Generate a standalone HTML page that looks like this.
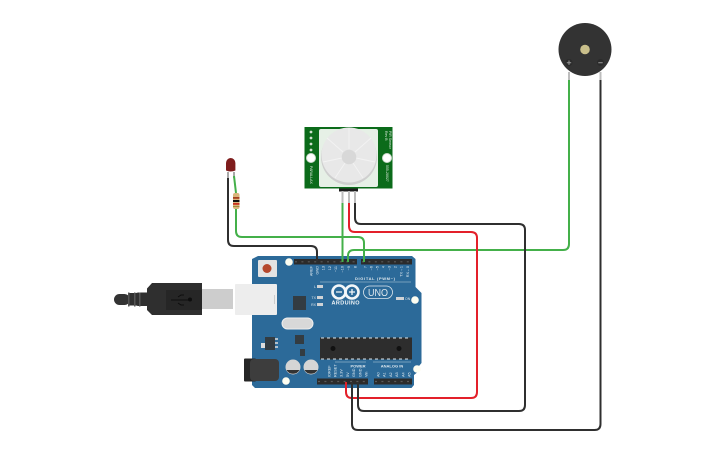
<!DOCTYPE html>
<html><head><meta charset="utf-8"><style>
html,body{margin:0;padding:0;background:#fff;width:725px;height:453px;overflow:hidden}
svg{display:block}
text{font-family:"Liberation Sans",sans-serif}
</style></head><body>
<svg width="725" height="453" viewBox="0 0 725 453" xmlns="http://www.w3.org/2000/svg">
<!-- USB -->
<rect x="114" y="294" width="16" height="11" rx="5.500" fill="#333"/>
<path d="M128 293h8l2-.5h9l0-4 5-5.500h50v32h-50l-5-5v-4h-9l-2-.5h-8z" fill="#2f2f2f"/>
<rect x="128" y="292.500" width="1.500" height="14" fill="#555"/><rect x="134" y="292.500" width="1.500" height="14" fill="#555"/><rect x="139" y="292.500" width="1.500" height="14" fill="#555"/>
<rect x="166" y="290" width="36" height="20" fill="#262626"/>
<path d="M171 300h18M178 297l3-2h3M178 303l3 2h3" stroke="#0d0d0d" stroke-width="1" fill="none"/><circle cx="190" cy="299.500" r="2" fill="#0d0d0d"/>
<rect x="202" y="289" width="31" height="20" fill="#cdcdcd"/>
<!-- Board -->
<path d="M258 256H412L415.500 259V287L421.500 293V363L419 366V371L414 375V385L411.500 388H255L252 385V259Z" fill="#2c6a99"/>
<!-- USB socket -->
<rect x="235" y="284" width="42" height="31" rx="1" fill="#ededed"/>
<rect x="274" y="295" width="1" height="9" fill="#ccc"/>
<!-- reset -->
<rect x="258" y="260" width="19" height="17" rx="1" fill="#e3e3e3"/><circle cx="267" cy="268.500" r="4.500" fill="#b5472c"/>
<circle cx="289" cy="262" r="3.800" fill="#fdfdf0"/><circle cx="415" cy="300" r="3.800" fill="#fdfdf0"/><circle cx="286" cy="381" r="3.800" fill="#fdfdf0"/><circle cx="417" cy="369" r="3.800" fill="#fdfdf0"/>
<!-- headers -->
<rect x="294" y="259" width="63" height="5.500" fill="#2b2b2b"/><rect x="361" y="259" width="51" height="5.500" fill="#2b2b2b"/>
<rect x="317" y="378.500" width="51" height="6" fill="#2b2b2b"/><rect x="374" y="378.500" width="38" height="6" fill="#2b2b2b"/>
<g stroke="#5a5a5a" stroke-width="1.200" stroke-dasharray="2 4.400" fill="none">
<path d="M295 261.800H356M362 261.800H411M318 381.500H367M375 381.500H411"/></g>
<!-- chips -->
<rect x="293" y="296" width="13" height="14" fill="#333c42"/>
<rect x="320" y="337.500" width="92" height="22" fill="#2d2d2d"/>
<circle cx="333" cy="348.500" r="2.500" fill="#111"/><circle cx="399" cy="348.500" r="2.500" fill="#111"/>
<path d="M321 338H411M321 359H411" stroke="#ddd" stroke-width="1" stroke-dasharray="3 3"/>
<rect x="265" y="337" width="10" height="13" fill="#333c42"/><rect x="261" y="343" width="4" height="5" fill="#ddd"/>
<path d="M275 339h3M275 343h3M275 347h3" stroke="#ddd" stroke-width="1.500"/>
<rect x="295" y="335" width="9" height="9" fill="#333c42"/>
<rect x="300" y="349" width="5" height="7" fill="#333c42"/>
<!-- crystal -->
<rect x="282" y="318" width="31" height="11" rx="5.500" fill="#d8d8d8" stroke="#eee"/>
<!-- LEDs -->
<g fill="#cfd3d6"><rect x="317" y="285" width="6" height="3"/><rect x="317" y="296" width="6" height="3"/><rect x="317" y="303" width="6" height="3"/><rect x="396" y="297" width="8" height="3"/></g>
<!-- caps and jack -->
<rect x="244" y="358.500" width="12" height="23" rx="1" fill="#262626"/><rect x="250" y="359" width="29" height="22" rx="4" fill="#3d3d3d"/>
<circle cx="293" cy="367" r="7.500" fill="#d5d5d5"/><path d="M286.500 370a7.500 7.500 0 0 0 13 0z" fill="#333"/>
<circle cx="311" cy="367" r="7.500" fill="#d5d5d5"/><path d="M304.500 370a7.500 7.500 0 0 0 13 0z" fill="#333"/>
<!-- logo -->
<g fill="none" stroke="#f2f6f8" stroke-width="2.600"><circle cx="339" cy="292" r="6.500"/><circle cx="352" cy="292" r="6.500"/></g>
<path d="M336 292h6M349 292h6M352 289v6" stroke="#f2f6f8" stroke-width="1.300"/>
<rect x="363.500" y="286" width="29" height="12.500" rx="6.200" fill="none" stroke="#dfe8ee" stroke-width=".8"/>
<text x="378" y="296" font-size="10.500" fill="#dfe8ee" text-anchor="middle" textLength="20" lengthAdjust="spacingAndGlyphs">UNO</text>
<text x="345.500" y="304.500" font-size="5.500" font-weight="bold" fill="#f2f6f8" text-anchor="middle" textLength="28" lengthAdjust="spacing">ARDUINO</text>
<text x="375" y="280" font-size="4" font-weight="bold" fill="#dfe8ee" text-anchor="middle" textLength="40">DIGITAL (PWM~)</text>
<path d="M320 282H411M335 362H366M373 362H411" stroke="#b9cfdd" stroke-width=".6" fill="none"/>
<text x="358" y="367.500" font-size="4" font-weight="bold" fill="#dfe8ee" text-anchor="middle">POWER</text>
<text x="392" y="367.500" font-size="4" font-weight="bold" fill="#dfe8ee" text-anchor="middle">ANALOG IN</text>
<text x="316" y="288" font-size="3.500" fill="#dfe8ee" text-anchor="end">L</text>
<text x="316" y="299" font-size="3.500" fill="#dfe8ee" text-anchor="end">TX</text>
<text x="316" y="306" font-size="3.500" fill="#dfe8ee" text-anchor="end">RX</text>
<text x="405" y="300" font-size="3.500" fill="#dfe8ee">ON</text>
<!-- pin labels -->
<g font-size="3.800" fill="#e4edf2" text-anchor="end" transform="translate(1.300,0)">
<text transform="translate(311,266) rotate(-90)">AREF</text>
<text transform="translate(317,266) rotate(-90)">GND</text>
<text transform="translate(323,266) rotate(-90)">13</text>
<text transform="translate(329.500,266) rotate(-90)">12</text>
<text transform="translate(335.500,266) rotate(-90)">~11</text>
<text transform="translate(342,266) rotate(-90)">~10</text>
<text transform="translate(348.500,266) rotate(-90)">~9</text>
<text transform="translate(355,266) rotate(-90)">8</text>
<text transform="translate(365,266) rotate(-90)">7</text>
<text transform="translate(371,266) rotate(-90)">~6</text>
<text transform="translate(377,266) rotate(-90)">~5</text>
<text transform="translate(383,266) rotate(-90)">4</text>
<text transform="translate(389,266) rotate(-90)">~3</text>
<text transform="translate(395,266) rotate(-90)">2</text>
<text transform="translate(401,266) rotate(-90)">TX→1</text>
<text transform="translate(407.500,266) rotate(-90)">RX←0</text>
<text transform="translate(329,377) rotate(-90)" text-anchor="start">IOREF</text>
<text transform="translate(335,377) rotate(-90)" text-anchor="start">RESET</text>
<text transform="translate(341,377) rotate(-90)" text-anchor="start">3.3V</text>
<text transform="translate(347.500,377) rotate(-90)" text-anchor="start">5V</text>
<text transform="translate(353.500,377) rotate(-90)" text-anchor="start">GND</text>
<text transform="translate(360,377) rotate(-90)" text-anchor="start">GND</text>
<text transform="translate(366,377) rotate(-90)" text-anchor="start">Vin</text>
<text transform="translate(378,377) rotate(-90)" text-anchor="start">A0</text>
<text transform="translate(384,377) rotate(-90)" text-anchor="start">A1</text>
<text transform="translate(390.500,377) rotate(-90)" text-anchor="start">A2</text>
<text transform="translate(396.500,377) rotate(-90)" text-anchor="start">A3</text>
<text transform="translate(403,377) rotate(-90)" text-anchor="start">A4</text>
<text transform="translate(409,377) rotate(-90)" text-anchor="start">A5</text>
</g>
<!-- PIR -->
<rect x="304.500" y="127" width="88" height="61.500" fill="#0b6b1a"/>
<rect x="319" y="129" width="59" height="58" rx="2" fill="#e6f0e6"/>
<circle cx="349" cy="157" r="28" fill="#cfcfcf"/>
<circle cx="349" cy="155" r="27.500" fill="#e8e8e8"/>
<g stroke="#f3f3f3" stroke-width=".9"><path d="M349 149V128M343 152L327 138M355 152L371 138M342 158L323 162M356 158L375 162M345 163L335 178M353 163L363 178"/></g>
<circle cx="349" cy="157" r="7.300" fill="#d8d8d8"/>
<circle cx="311" cy="158" r="4.500" fill="#fff" stroke="#cfdccf"/><circle cx="387" cy="158" r="4.500" fill="#fff" stroke="#cfdccf"/>
<g fill="#cfe0cf"><circle cx="311" cy="132" r="1.400"/><circle cx="311" cy="138" r="1.400"/><circle cx="311" cy="144" r="1.400"/><circle cx="311" cy="150" r="1.400"/></g>
<g font-size="3.500" fill="#dfeadf"><text transform="translate(310,166) rotate(90)">PARALLAX</text><text transform="translate(386,165) rotate(90)">555-28027</text><text transform="translate(389,131) rotate(90)">PIR Sensor</text><text transform="translate(385,131) rotate(90)">Rev B</text></g>
<rect x="339" y="188.500" width="19" height="3" fill="#1c1c1c"/>
<path d="M342.500 191V203M349 191V203M355 191V203" stroke="#bdbdbd" stroke-width="2" fill="none"/>
<!-- Buzzer -->
<circle cx="585" cy="49.500" r="26.500" fill="#333"/>
<circle cx="585" cy="49.500" r="4.800" fill="#c9bf8b"/>
<circle cx="569" cy="62.500" r="3.500" fill="#2b2b2b"/><circle cx="600.500" cy="62.500" r="3.500" fill="#2b2b2b"/>
<path d="M566.800 62.700h4.400M569 60.500v4.400M598.300 62.700h4.400" stroke="#9a9a9a" stroke-width="1"/>
<path d="M569 72V80" stroke="#bdbdbd" stroke-width="2"/><path d="M600.500 72V80" stroke="#bdbdbd" stroke-width="2"/>
<!-- LED -->
<path d="M228 172V178M234 172V178" stroke="#a8a8a8" stroke-width="2"/>
<path d="M226 170.500V163a4.700 5 0 0 1 9.400 0V170.500q-4.700 2-9.400 0z" fill="#7f1d1d"/>
<!-- Wires -->
<g fill="none" stroke-width="2" stroke-linejoin="round">
<path d="M228 178V240q0 6 6 6H311q6 0 6 6V261" stroke="#2f2f2f"/>
<path d="M234 176L236 193M236 208V231q0 6 6 6H358q6 0 6 6V262" stroke="#44b04a"/>
<path d="M342.500 203V262" stroke="#44b04a"/>
<path d="M569 80V244q0 6-6 6H354q-6 0-6 6V262" stroke="#44b04a"/>
<path d="M349 203V226q0 6 6 6H471q6 0 6 6V392q0 6-6 6H352q-6 0-6-6V382" stroke="#e3202a"/>
<path d="M355 203V218q0 6 6 6H519q6 0 6 6V405q0 6-6 6H364q-6 0-6-6V382" stroke="#2f2f2f"/>
<path d="M600.500 80V424q0 6-6 6H358q-6 0-6-6V382" stroke="#2f2f2f"/>
</g>
<!-- Resistor -->
<rect x="233" y="193" width="6.500" height="16" rx="2" fill="#d8b57c"/>
<rect x="233" y="197" width="6.500" height="1.800" fill="#a5411f"/><rect x="233" y="200" width="6.500" height="2" fill="#111"/><rect x="233" y="203" width="6.500" height="1.800" fill="#c8311f"/><rect x="233" y="206" width="6.500" height="1" fill="#a58a3c"/>
</svg>
</body></html>
